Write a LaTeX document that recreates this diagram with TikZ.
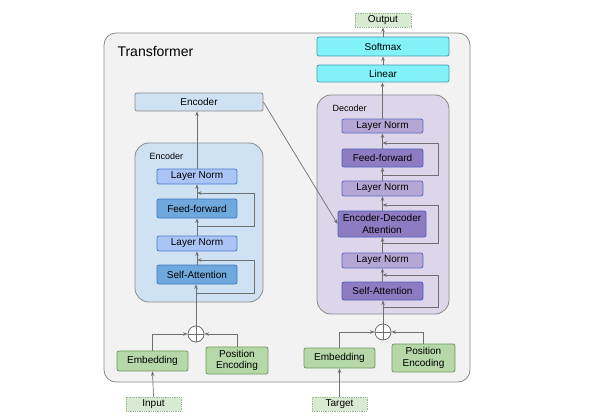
\documentclass[tikz,border=0pt]{standalone}
\usepackage{fontspec}
\setmainfont{Liberation Sans}
\usetikzlibrary{arrows.meta,calc,shapes.geometric}
\definecolor{outerfill}{HTML}{F2F2F2}
\definecolor{outerline}{HTML}{8A8A8A}
\definecolor{encfill}{HTML}{CFE2F3}
\definecolor{decfill}{HTML}{DDD5EA}
\definecolor{eln}{HTML}{A9C4F5}
\definecolor{elnline}{HTML}{4A7BD0}
\definecolor{eop}{HTML}{6FA8DC}
\definecolor{eopline}{HTML}{3D78C0}
\definecolor{dln}{HTML}{B4A7D6}
\definecolor{dlnline}{HTML}{5A6CC0}
\definecolor{dop}{HTML}{8E7CC3}
\definecolor{dopline}{HTML}{4A5EC0}
\definecolor{cyanfill}{HTML}{80F2F8}
\definecolor{cyanline}{HTML}{4A9AB0}
\definecolor{greenfill}{HTML}{B6D7A8}
\definecolor{greenline}{HTML}{6E9A5E}
\definecolor{iofill}{HTML}{D9EAD3}
\definecolor{ioline}{HTML}{93B987}
\definecolor{wire}{HTML}{707070}
\tikzset{
  base/.style={draw, rounded corners=2pt, inner sep=0pt, align=center, font=\fontsize{10}{11.5}\selectfont, line width=0.8pt},
  encln/.style={base, fill=eln, draw=elnline},
  encop/.style={base, fill=eop, draw=eopline},
  decln/.style={base, fill=dln, draw=dlnline},
  decop/.style={base, fill=dop, draw=dopline},
  cyanbox/.style={base, fill=cyanfill, draw=cyanline},
  greenbox/.style={base, fill=greenfill, draw=greenline},
  iobox/.style={base, fill=iofill, draw=ioline, densely dotted, rounded corners=0pt},
  wirearrow/.style={draw=wire, line width=0.7pt, -{Stealth[length=4.5pt,width=3.5pt]}},
  wireline/.style={draw=wire, line width=0.7pt},
  plusnode/.style={circle, draw=wire, line width=0.8pt, minimum size=16pt, inner sep=0pt, fill=white},
  container/.style={rounded corners=12pt, line width=0.8pt, draw=outerline},
}
\begin{document}
\begin{tikzpicture}[x=1pt,y=-1pt]
\useasboundingbox (0,0) rectangle (600,420);
% outer box
\draw[container, fill=outerfill] (104,33) rectangle (470,382);
\node[anchor=west, font=\fontsize{14}{16}\selectfont] (title) at (114,52) {Transformer};
% containers
\draw[container, fill=encfill, rounded corners=14pt] (135,143) rectangle (263,302);
\node[anchor=west, font=\fontsize{9}{11}\selectfont] (enclabel) at (146,156) {Encoder};
\draw[container, fill=decfill, rounded corners=14pt] (317,95) rectangle (449,314);
\node[anchor=west, font=\fontsize{9}{11}\selectfont] (declabel) at (329,108) {Decoder};

% encoder side
\node[base, fill=encfill, draw=outerline, minimum width=128pt, minimum height=18pt] (encNode) at (199,102) {Encoder};
\node[encln, minimum width=80pt, minimum height=15pt] (eLN2) at (197,176.5) {Layer Norm};
\node[encop, minimum width=80pt, minimum height=19pt] (eFF) at (197,208.5) {Feed-forward};
\node[encln, minimum width=80pt, minimum height=15pt] (eLN1) at (197,243.5) {Layer Norm};
\node[encop, minimum width=80pt, minimum height=19pt] (eSA) at (197,274.5) {Self-Attention};
\node[plusnode] (plus1) at (196,334) {};
\draw[wire, line width=0.8pt] (plus1.north) -- (plus1.south) (plus1.west) -- (plus1.east);
\node[greenbox, minimum width=71pt, minimum height=20pt] (emb1) at (152.5,361) {Embedding};
\node[greenbox, minimum width=62pt, minimum height=27pt] (pos1) at (237,360.5) {Position\\Encoding};
\node[iobox, minimum width=55pt, minimum height=14pt] (input) at (153.5,404) {Input};

% decoder side
\node[iobox, minimum width=56pt, minimum height=14pt] (output) at (383,20) {Output};
\node[cyanbox, minimum width=132pt, minimum height=19pt] (softmax) at (383,46.5) {Softmax};
\node[cyanbox, minimum width=132pt, minimum height=17pt] (linear) at (383,73.5) {Linear};
\node[decln, minimum width=81pt, minimum height=14pt] (dLN3) at (382.5,126) {Layer Norm};
\node[decop, minimum width=81pt, minimum height=18pt] (dFF) at (382.5,158) {Feed-forward};
\node[decln, minimum width=81pt, minimum height=15pt] (dLN2) at (382.5,188.5) {Layer Norm};
\node[decop, minimum width=88pt, minimum height=26pt] (dEDA) at (382,224) {Encoder-Decoder\\Attention};
\node[decln, minimum width=81pt, minimum height=15pt] (dLN1) at (382.5,260.5) {Layer Norm};
\node[decop, minimum width=81pt, minimum height=18pt] (dSA) at (382.5,291) {Self-Attention};
\node[plusnode] (plus2) at (383,332) {};
\draw[wire, line width=0.8pt] (plus2.north) -- (plus2.south) (plus2.west) -- (plus2.east);
\node[greenbox, minimum width=71pt, minimum height=20pt] (emb2) at (339.5,358) {Embedding};
\node[greenbox, minimum width=63pt, minimum height=28pt] (pos2) at (423.5,358) {Position\\Encoding};
\node[iobox, minimum width=55pt, minimum height=14pt] (target) at (339.5,404) {Target};

% encoder main flow
\draw[wirearrow] (input.north) -- (emb1.south);
\draw[wirearrow] (emb1.north) |- (plus1.west);
\draw[wirearrow] (pos1.north) |- (plus1.east);
\draw[wirearrow] (plus1.north) -- (plus1.north |- eSA.south);
\draw[wirearrow] (eSA.north) -- (eLN1.south);
\draw[wirearrow] (eLN1.north) -- (eFF.south);
\draw[wirearrow] (eFF.north) -- (eLN2.south);
\draw[wirearrow] (eLN2.north) -- (eLN2.north |- encNode.south);
% encoder residuals
\coordinate (eSAin) at (197,293);
\coordinate (eSAout) at (197,260);
\coordinate (eFFin) at (197,226);
\coordinate (eFFout) at (197,193);
\draw[wirearrow] (eSAin) -- (254,293) -- (254,260) -- (eSAout);
\draw[wirearrow] (eFFin) -- (254,226) -- (254,193) -- (eFFout);

% decoder main flow
\draw[wirearrow] (target.north) -- (emb2.south);
\draw[wirearrow] (emb2.north) |- (plus2.west);
\draw[wirearrow] (pos2.north) |- (plus2.east);
\draw[wirearrow] (plus2.north) -- (plus2.north |- dSA.south);
\draw[wirearrow] (dSA.north) -- (dLN1.south);
\draw[wirearrow] (dLN1.north) -- (dLN1.north |- dEDA.south);
\draw[wirearrow] (dEDA.north -| dLN2.south) -- (dLN2.south);
\draw[wirearrow] (dLN2.north) -- (dFF.south);
\draw[wirearrow] (dFF.north) -- (dLN3.south);
\draw[wirearrow] (dLN3.north) -- (dLN3.north |- linear.south);
\draw[wirearrow] (linear.north -| softmax.south) -- (softmax.south);
\draw[wirearrow] (softmax.north -| output.south) -- (output.south);
% decoder residuals
\coordinate (dSAin) at (382.5,307);
\coordinate (dSAout) at (382.5,275);
\coordinate (dEDAin) at (382.5,243);
\coordinate (dEDAout) at (382.5,205);
\coordinate (dFFin) at (382.5,175);
\coordinate (dFFout) at (382.5,143);
\draw[wirearrow] (dSAin) -- (438,307) -- (438,275) -- (dSAout);
\draw[wirearrow] (dEDAin) -- (438,243) -- (438,205) -- (dEDAout);
\draw[wirearrow] (dFFin) -- (438,175) -- (438,143) -- (dFFout);

% cross connection
\draw[wirearrow] (encNode.east) -- (dEDA.west);
\end{tikzpicture}
\end{document}
